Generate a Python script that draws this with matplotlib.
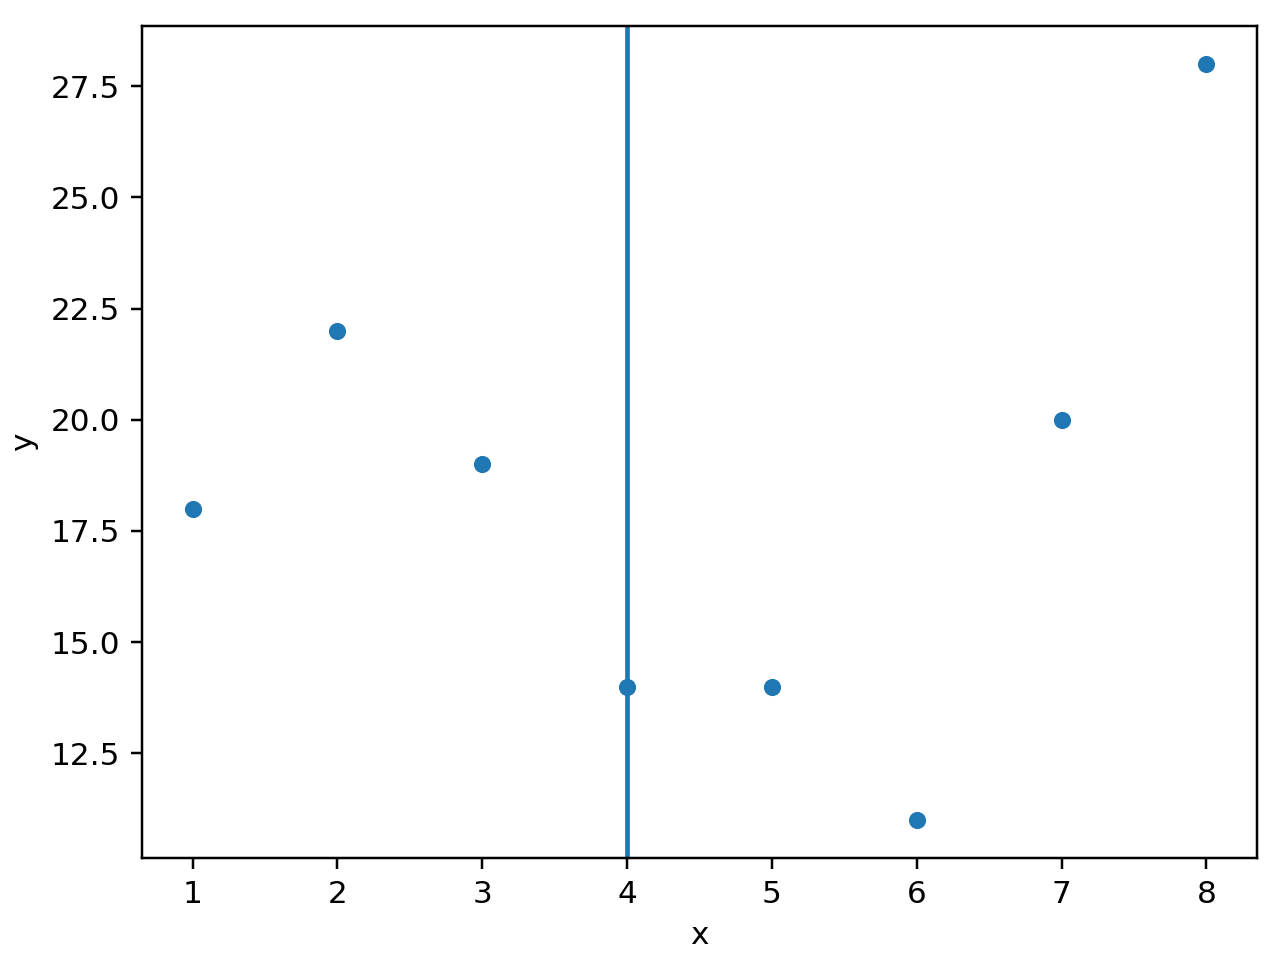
import matplotlib
matplotlib.use("Agg")
import matplotlib.pyplot as plt
import seaborn as sns
import pandas as pd

x = [1, 2, 3, 4, 5, 6, 7, 8]
y = [18, 22, 19, 14, 14, 11, 20, 28]
vline_x = 4

DPI = 224
df = pd.DataFrame({"x": x, "y": y})
fig = plt.figure(figsize=(1280/DPI, 972/DPI), dpi=DPI)
ax = fig.add_axes([142/1280, 1-858/972, (1257-142)/1280, (858-26)/972])
sns.scatterplot(data=df, x="x", y="y", ax=ax)
ax.axvline(vline_x)
fig.savefig("out.png", dpi=DPI)
